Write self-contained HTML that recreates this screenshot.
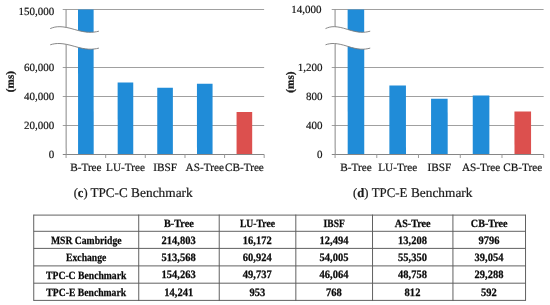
<!DOCTYPE html>
<html><head><meta charset="utf-8"><title>Benchmark</title>
<style>
html,body{margin:0;padding:0;background:#fff;}
svg{display:block}
text{font-family:"Liberation Serif",serif;fill:#1a1a1a}
.ax{font-size:11px;fill:#141414;stroke:#141414;stroke-width:0.2px}
.cap.cb{font-size:13.3px}
.tb.tn{font-size:11.3px}
.ax.ct{font-size:11.25px}
.ms{font-size:11.2px;font-weight:bold;stroke:#1a1a1a;stroke-width:0.3px}
.cap{font-size:12.9px;stroke:#1a1a1a;stroke-width:0.2px}
.tb{font-size:11.1px;font-weight:bold;fill:#0a0a0a;stroke:#0a0a0a;stroke-width:0.25px}
</style></head><body>
<svg width="550" height="305" viewBox="0 0 550 305">
<rect width="550" height="305" fill="#fff"/>
<g transform="skewX(0.03)">
<line x1="62.7" y1="125.5" x2="264.1" y2="125.5" stroke="#a0a0a0" stroke-width="1"/>
<line x1="62.7" y1="96.5" x2="264.1" y2="96.5" stroke="#a0a0a0" stroke-width="1"/>
<line x1="62.7" y1="67.5" x2="264.1" y2="67.5" stroke="#a0a0a0" stroke-width="1"/>
<line x1="62.7" y1="9.5" x2="264.1" y2="9.5" stroke="#a0a0a0" stroke-width="1"/>
<rect x="78.0" y="9.5" width="15.6" height="145.0" fill="#208cd8"/>
<rect x="117.6" y="82.4" width="15.6" height="72.1" fill="#208cd8"/>
<rect x="157.2" y="87.7" width="15.6" height="66.8" fill="#208cd8"/>
<rect x="196.9" y="83.8" width="15.6" height="70.7" fill="#208cd8"/>
<rect x="236.5" y="112.0" width="15.6" height="42.5" fill="#dc504e"/>
<line x1="66.08" y1="9.5" x2="66.08" y2="154.5" stroke="#888888" stroke-width="1"/>
<line x1="62.7" y1="154.5" x2="264.1" y2="154.5" stroke="#868686" stroke-width="1"/>
<line x1="66.0" y1="154.5" x2="66.0" y2="157.9" stroke="#9a9a9a" stroke-width="1"/>
<line x1="105.6" y1="154.5" x2="105.6" y2="157.9" stroke="#9a9a9a" stroke-width="1"/>
<line x1="145.2" y1="154.5" x2="145.2" y2="157.9" stroke="#9a9a9a" stroke-width="1"/>
<line x1="184.9" y1="154.5" x2="184.9" y2="157.9" stroke="#9a9a9a" stroke-width="1"/>
<line x1="224.5" y1="154.5" x2="224.5" y2="157.9" stroke="#9a9a9a" stroke-width="1"/>
<line x1="264.1" y1="154.5" x2="264.1" y2="157.9" stroke="#9a9a9a" stroke-width="1"/>
<path d="M50.2,28.6 C56.2,26.0 62.2,25.8 74.2,29.4 S92.2,32.8 98.9,31.2 L98.9,48.1 C92.2,49.8 86.2,49.9 74.2,46.3 S56.2,42.9 50.2,44.8 Z" fill="#fff"/>
<path d="M50.2,28.6 C56.2,26.0 62.2,25.8 74.2,29.4 S92.2,32.8 98.9,31.2" fill="none" stroke="#7a7a7a" stroke-width="0.9"/>
<path d="M50.2,44.8 C56.2,42.9 62.2,42.8 74.2,46.3 S92.2,49.8 98.9,48.1" fill="none" stroke="#7a7a7a" stroke-width="0.9"/>
<text x="54.2" y="157.9" text-anchor="end" class="ax">0</text>
<text x="54.2" y="128.9" text-anchor="end" class="ax">20,000</text>
<text x="54.2" y="99.9" text-anchor="end" class="ax">40,000</text>
<text x="54.2" y="70.9" text-anchor="end" class="ax">60,000</text>
<text x="54.2" y="14.8" text-anchor="end" class="ax">150,000</text>
<text x="85.8" y="171.2" text-anchor="middle" class="ax ct">B-Tree</text>
<text x="125.4" y="171.2" text-anchor="middle" class="ax ct">LU-Tree</text>
<text x="165.1" y="171.2" text-anchor="middle" class="ax ct">IBSF</text>
<text x="204.7" y="171.2" text-anchor="middle" class="ax ct">AS-Tree</text>
<text x="244.3" y="171.2" text-anchor="middle" class="ax ct">CB-Tree</text>
<text transform="translate(13.8,81.6) rotate(-90)" text-anchor="middle" class="ms">(ms)</text>
<line x1="331.7" y1="125.5" x2="543.6" y2="125.5" stroke="#a0a0a0" stroke-width="1"/>
<line x1="331.7" y1="96.5" x2="543.6" y2="96.5" stroke="#a0a0a0" stroke-width="1"/>
<line x1="331.7" y1="67.5" x2="543.6" y2="67.5" stroke="#a0a0a0" stroke-width="1"/>
<line x1="331.7" y1="9.5" x2="543.6" y2="9.5" stroke="#a0a0a0" stroke-width="1"/>
<rect x="347.6" y="9.5" width="16.6" height="145.0" fill="#208cd8"/>
<rect x="389.3" y="85.4" width="16.6" height="69.1" fill="#208cd8"/>
<rect x="431.0" y="98.8" width="16.6" height="55.7" fill="#208cd8"/>
<rect x="472.7" y="95.6" width="16.6" height="58.9" fill="#208cd8"/>
<rect x="514.4" y="111.6" width="16.6" height="42.9" fill="#dc504e"/>
<line x1="335.08" y1="9.5" x2="335.08" y2="154.5" stroke="#888888" stroke-width="1"/>
<line x1="331.7" y1="154.5" x2="543.6" y2="154.5" stroke="#868686" stroke-width="1"/>
<line x1="335.0" y1="154.5" x2="335.0" y2="157.9" stroke="#9a9a9a" stroke-width="1"/>
<line x1="376.7" y1="154.5" x2="376.7" y2="157.9" stroke="#9a9a9a" stroke-width="1"/>
<line x1="418.4" y1="154.5" x2="418.4" y2="157.9" stroke="#9a9a9a" stroke-width="1"/>
<line x1="460.2" y1="154.5" x2="460.2" y2="157.9" stroke="#9a9a9a" stroke-width="1"/>
<line x1="501.9" y1="154.5" x2="501.9" y2="157.9" stroke="#9a9a9a" stroke-width="1"/>
<line x1="543.6" y1="154.5" x2="543.6" y2="157.9" stroke="#9a9a9a" stroke-width="1"/>
<path d="M325.5,28.6 C331.0,26.0 336.5,25.8 347.5,29.4 S364.0,32.8 370.2,31.2 L370.2,48.1 C364.0,49.8 358.6,49.9 347.5,46.3 S331.0,42.9 325.5,44.8 Z" fill="#fff"/>
<path d="M325.5,28.6 C331.0,26.0 336.5,25.8 347.5,29.4 S364.0,32.8 370.2,31.2" fill="none" stroke="#7a7a7a" stroke-width="0.9"/>
<path d="M325.5,44.8 C331.0,42.9 336.5,42.8 347.5,46.3 S364.0,49.8 370.2,48.1" fill="none" stroke="#7a7a7a" stroke-width="0.9"/>
<text x="322.4" y="157.9" text-anchor="end" class="ax">0</text>
<text x="322.4" y="128.9" text-anchor="end" class="ax">400</text>
<text x="322.4" y="99.9" text-anchor="end" class="ax">800</text>
<text x="322.4" y="70.9" text-anchor="end" class="ax">1,200</text>
<text x="321.5" y="13.4" text-anchor="end" class="ax">14,000</text>
<text x="355.9" y="171.2" text-anchor="middle" class="ax ct">B-Tree</text>
<text x="397.6" y="171.2" text-anchor="middle" class="ax ct">LU-Tree</text>
<text x="439.3" y="171.2" text-anchor="middle" class="ax ct">IBSF</text>
<text x="481.0" y="171.2" text-anchor="middle" class="ax ct">AS-Tree</text>
<text x="522.7" y="171.2" text-anchor="middle" class="ax ct">CB-Tree</text>
<text transform="translate(293.8,82.1) rotate(-90)" text-anchor="middle" class="ms">(ms)</text>
<text x="73.6" y="197.0" class="cap" textLength="13.9" lengthAdjust="spacingAndGlyphs">(<tspan font-weight="bold">c</tspan>)</text>
<text x="90.4" y="196.9" class="cap cb" textLength="37.2" lengthAdjust="spacingAndGlyphs">TPC-C</text>
<text x="131.0" y="196.9" class="cap cb" textLength="61.6" lengthAdjust="spacingAndGlyphs">Benchmark</text>
<text x="352.9" y="197.0" class="cap" textLength="15.5" lengthAdjust="spacingAndGlyphs">(<tspan font-weight="bold">d</tspan>)</text>
<text x="371.7" y="196.9" class="cap cb" textLength="35.6" lengthAdjust="spacingAndGlyphs">TPC-E</text>
<text x="410.85" y="196.9" class="cap cb" textLength="61.5" lengthAdjust="spacingAndGlyphs">Benchmark</text>
<line x1="33.6" y1="214.6" x2="33.6" y2="300.9" stroke="#5c5c5c" stroke-width="0.97"/>
<line x1="138.6" y1="214.6" x2="138.6" y2="300.9" stroke="#5c5c5c" stroke-width="0.97"/>
<line x1="219.1" y1="214.6" x2="219.1" y2="300.9" stroke="#5c5c5c" stroke-width="0.97"/>
<line x1="295.7" y1="214.6" x2="295.7" y2="300.9" stroke="#5c5c5c" stroke-width="0.97"/>
<line x1="372.4" y1="214.6" x2="372.4" y2="300.9" stroke="#5c5c5c" stroke-width="0.97"/>
<line x1="452.8" y1="214.6" x2="452.8" y2="300.9" stroke="#5c5c5c" stroke-width="0.97"/>
<line x1="525.4" y1="214.6" x2="525.4" y2="300.9" stroke="#5c5c5c" stroke-width="0.97"/>
<line x1="33.6" y1="215.1" x2="525.4" y2="215.1" stroke="#5c5c5c" stroke-width="0.97"/>
<line x1="33.6" y1="231.3" x2="525.4" y2="231.3" stroke="#5c5c5c" stroke-width="0.97"/>
<line x1="33.6" y1="248.4" x2="525.4" y2="248.4" stroke="#5c5c5c" stroke-width="0.97"/>
<line x1="33.6" y1="265.9" x2="525.4" y2="265.9" stroke="#5c5c5c" stroke-width="0.97"/>
<line x1="33.6" y1="283.2" x2="525.4" y2="283.2" stroke="#5c5c5c" stroke-width="0.97"/>
<line x1="33.6" y1="300.4" x2="525.4" y2="300.4" stroke="#5c5c5c" stroke-width="0.97"/>
<text x="163.87" y="226.9" textLength="29.86" lengthAdjust="spacingAndGlyphs" class="tb">B-Tree</text>
<text x="239.81" y="226.9" textLength="35.13" lengthAdjust="spacingAndGlyphs" class="tb">LU-Tree</text>
<text x="323.50" y="226.9" textLength="21.15" lengthAdjust="spacingAndGlyphs" class="tb">IBSF</text>
<text x="394.70" y="226.9" textLength="35.79" lengthAdjust="spacingAndGlyphs" class="tb">AS-Tree</text>
<text x="470.71" y="226.9" textLength="36.72" lengthAdjust="spacingAndGlyphs" class="tb">CB-Tree</text>
<text x="50.76" y="244.1" textLength="70.63" lengthAdjust="spacingAndGlyphs" class="tb">MSR Cambridge</text>
<text x="161.48" y="243.9" textLength="34.14" lengthAdjust="spacingAndGlyphs" class="tb tn">214,803</text>
<text x="242.68" y="243.9" textLength="28.89" lengthAdjust="spacingAndGlyphs" class="tb tn">16,172</text>
<text x="319.38" y="243.9" textLength="28.89" lengthAdjust="spacingAndGlyphs" class="tb tn">12,494</text>
<text x="397.91" y="243.9" textLength="28.89" lengthAdjust="spacingAndGlyphs" class="tb tn">13,208</text>
<text x="478.32" y="243.9" textLength="21.01" lengthAdjust="spacingAndGlyphs" class="tb tn">9796</text>
<text x="65.93" y="261.3" textLength="40.29" lengthAdjust="spacingAndGlyphs" class="tb">Exchange</text>
<text x="161.48" y="261.1" textLength="34.14" lengthAdjust="spacingAndGlyphs" class="tb tn">513,568</text>
<text x="242.68" y="261.1" textLength="28.89" lengthAdjust="spacingAndGlyphs" class="tb tn">60,924</text>
<text x="319.38" y="261.1" textLength="28.89" lengthAdjust="spacingAndGlyphs" class="tb tn">54,005</text>
<text x="397.91" y="261.1" textLength="28.89" lengthAdjust="spacingAndGlyphs" class="tb tn">55,350</text>
<text x="474.38" y="261.1" textLength="28.89" lengthAdjust="spacingAndGlyphs" class="tb tn">39,054</text>
<text x="45.92" y="278.6" textLength="80.30" lengthAdjust="spacingAndGlyphs" class="tb">TPC-C Benchmark</text>
<text x="161.48" y="278.4" textLength="34.14" lengthAdjust="spacingAndGlyphs" class="tb tn">154,263</text>
<text x="242.68" y="278.4" textLength="28.89" lengthAdjust="spacingAndGlyphs" class="tb tn">49,737</text>
<text x="319.38" y="278.4" textLength="28.89" lengthAdjust="spacingAndGlyphs" class="tb tn">46,064</text>
<text x="397.91" y="278.4" textLength="28.89" lengthAdjust="spacingAndGlyphs" class="tb tn">48,758</text>
<text x="474.38" y="278.4" textLength="28.89" lengthAdjust="spacingAndGlyphs" class="tb tn">29,288</text>
<text x="46.19" y="296.1" textLength="79.77" lengthAdjust="spacingAndGlyphs" class="tb">TPC-E Benchmark</text>
<text x="164.11" y="295.9" textLength="28.89" lengthAdjust="spacingAndGlyphs" class="tb tn">14,241</text>
<text x="249.25" y="295.9" textLength="15.76" lengthAdjust="spacingAndGlyphs" class="tb tn">953</text>
<text x="325.95" y="295.9" textLength="15.76" lengthAdjust="spacingAndGlyphs" class="tb tn">768</text>
<text x="404.47" y="295.9" textLength="15.76" lengthAdjust="spacingAndGlyphs" class="tb tn">812</text>
<text x="480.95" y="295.9" textLength="15.76" lengthAdjust="spacingAndGlyphs" class="tb tn">592</text>
</g>
</svg>
</body></html>
